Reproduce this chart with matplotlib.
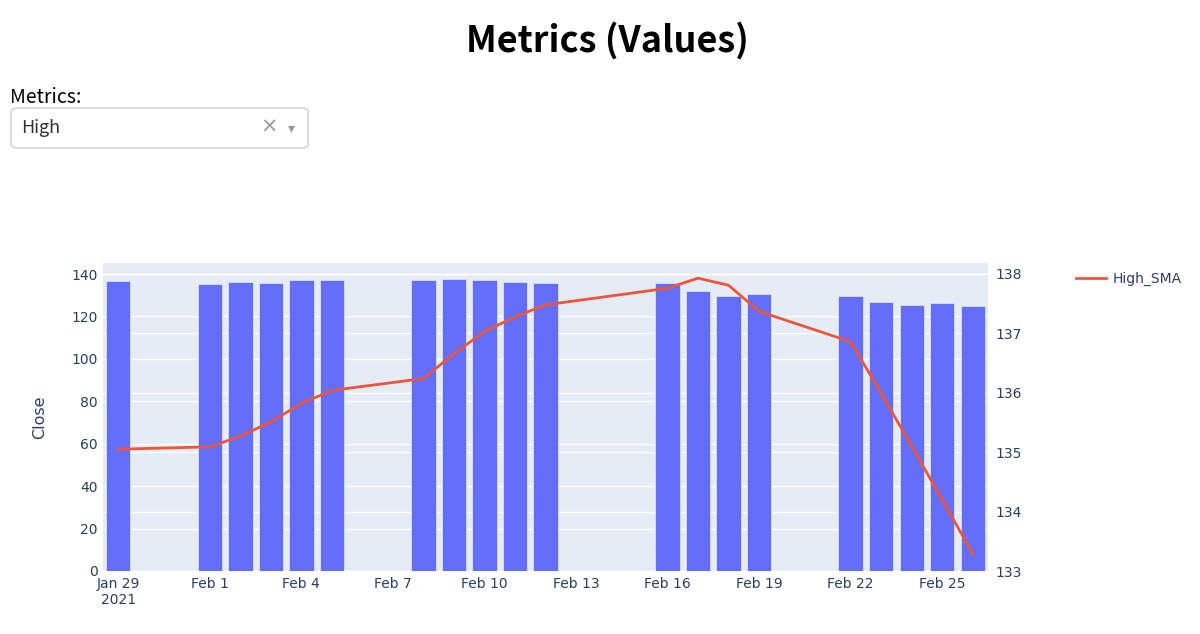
#!/usr/bin/env python3

"""
Metrics (Values): daily close bars with the High SMA line on a second axis
"""

import matplotlib
matplotlib.use("Agg")
import matplotlib.pyplot as plt
import pandas as pd
from matplotlib.patches import FancyBboxPatch


dates = ["2021-01-29",
         "2021-02-01", "2021-02-02", "2021-02-03", "2021-02-04", "2021-02-05",
         "2021-02-08", "2021-02-09", "2021-02-10", "2021-02-11", "2021-02-12",
         "2021-02-16", "2021-02-17", "2021-02-18", "2021-02-19",
         "2021-02-22", "2021-02-23", "2021-02-24", "2021-02-25", "2021-02-26"]
close = [136.7,
         135.3, 136.3, 135.8, 137.3, 137.3,
         137.0, 137.7, 137.0, 136.3, 135.6,
         135.9, 132.2, 129.8, 130.8,
         129.7, 126.7, 125.6, 126.4, 124.8]
high_sma = [135.05,
            135.09, 135.27, 135.51, 135.82, 136.04,
            136.24, 136.66, 137.03, 137.28, 137.48,
            137.76, 137.93, 137.81, 137.37,
            136.86, 135.99, 135.10, 134.20, 133.29]

tick_dates = ["2021-01-29", "2021-02-01", "2021-02-04", "2021-02-07", "2021-02-10",
              "2021-02-13", "2021-02-16", "2021-02-19", "2021-02-22", "2021-02-25"]
tick_labels = ["Jan 29\n2021", "Feb 1", "Feb 4", "Feb 7", "Feb 10",
               "Feb 13", "Feb 16", "Feb 19", "Feb 22", "Feb 25"]
left_ticks = [0, 20, 40, 60, 80, 100, 120, 140]
right_ticks = [133, 134, 135, 136, 137, 138]

BAR_COLOR = "#636EFA"
LINE_COLOR = "#EF553B"
BG_COLOR = "#E5ECF6"
TEXT_COLOR = "#2a3f5f"
HEAD = ["Noto Sans CJK JP", "DejaVu Sans"]


def plot() -> None:
    W, H = 1200, 634
    fig = plt.figure(figsize=(W / 100, H / 100), dpi=100)
    fig.patch.set_facecolor("white")

    x = pd.to_datetime(dates)
    xt = pd.to_datetime(tick_dates)
    xmin = pd.Timestamp("2021-01-28 12:00")
    xmax = pd.Timestamp("2021-02-26 12:00")

    rect = [103 / W, 1 - 571 / H, (988 - 103) / W, (571 - 263) / H]

    # background axes carrying the right-axis grid, below the bars
    ax_grid = fig.add_axes(rect, zorder=0)
    ax_grid.set_facecolor(BG_COLOR)
    ax_grid.set_xlim(xmin, xmax)
    ax_grid.set_ylim(133, 138.185)
    ax_grid.set_yticks(right_ticks)
    ax_grid.set_xticks([])
    ax_grid.tick_params(left=False, labelleft=False)
    ax_grid.grid(axis="y", color="white", lw=1)
    for s in ax_grid.spines.values():
        s.set_visible(False)

    ax = fig.add_axes(rect, zorder=1)
    ax.patch.set_visible(False)
    ax.set_axisbelow(True)
    ax.bar(x, close, width=0.8, color=BAR_COLOR, edgecolor=BG_COLOR, lw=0.5)
    ax.set_xlim(xmin, xmax)
    ax.set_ylim(0, 145.19)
    ax.set_yticks(left_ticks)
    ax.set_xticks(xt)
    ax.set_xticklabels(tick_labels)
    ax.grid(axis="y", color="white", lw=1)
    ax.tick_params(axis="both", length=0, labelsize=10, labelcolor=TEXT_COLOR)
    ax.tick_params(axis="y", pad=4)
    ax.tick_params(axis="x", pad=4)
    ax.set_ylabel("Close", fontsize=11.5, color=TEXT_COLOR, labelpad=17)
    for s in ax.spines.values():
        s.set_visible(False)

    ax2 = ax.twinx()
    ax2.plot(x, high_sma, color=LINE_COLOR, lw=2, label="High_SMA")
    ax2.set_ylim(133, 138.185)
    ax2.set_yticks(right_ticks)
    ax2.tick_params(axis="y", length=0, labelsize=10, labelcolor=TEXT_COLOR, pad=5)
    for s in ax2.spines.values():
        s.set_visible(False)

    fig.legend(loc="upper left", bbox_to_anchor=(1070 / W, 1 - 266 / H),
               frameon=False, fontsize=10, handlelength=2.2, handletextpad=0.5,
               labelcolor=TEXT_COLOR, borderaxespad=0)

    # title and dropdown
    fig.text(607 / W, 1 - 52 / H, "Metrics (Values)", family=HEAD,
             weight="bold", fontsize=26, ha="center", va="baseline", color="black")
    fig.text(10 / W, 1 - 103 / H, "Metrics:", family=HEAD, fontsize=14,
             ha="left", va="baseline", color="black")
    box = FancyBboxPatch((11 / W, 1 - 148 / H), 297 / W, 40 / H,
                         boxstyle="round,pad=0,rounding_size=0.006",
                         transform=fig.transFigure, facecolor="white",
                         edgecolor="#cccccc", lw=1)
    fig.patches.append(box)
    fig.text(21 / W, 1 - 133 / H, "High", family=HEAD, fontsize=13,
             ha="left", va="baseline", color="#333333")
    fig.text(269 / W, 1 - 127 / H, "\u00d7", fontsize=15, ha="center",
             va="center", color="#999999")
    fig.text(291 / W, 1 - 128 / H, "\u25be", fontsize=10, ha="center",
             va="center", color="#999999")

    fig.savefig("out.png", dpi=100)


if __name__ == "__main__":
    plot()
